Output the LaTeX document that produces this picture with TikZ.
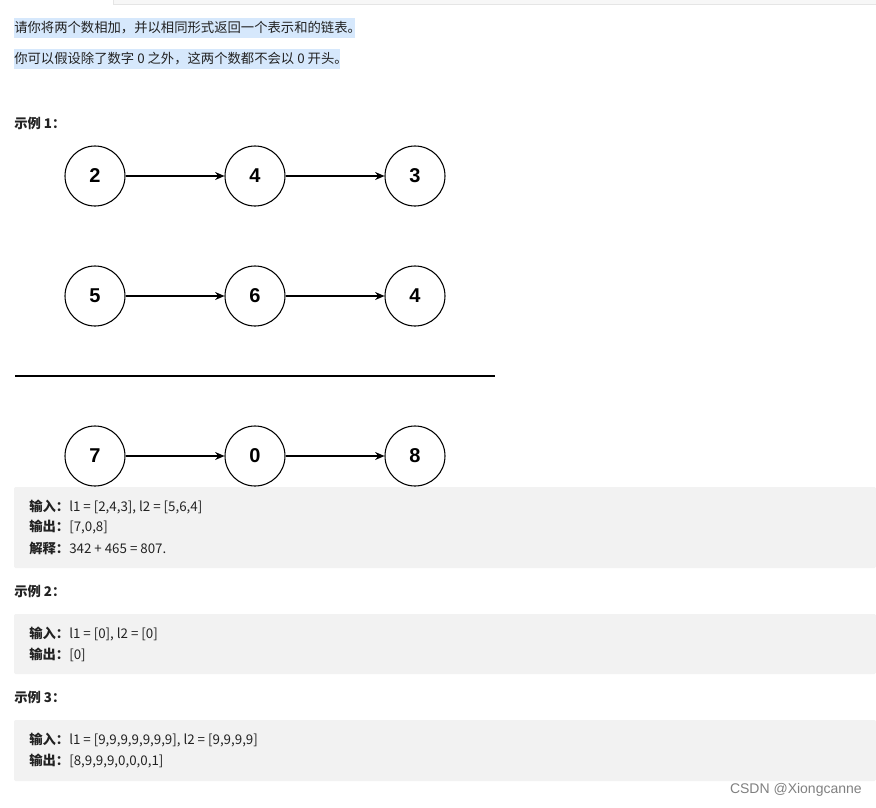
\documentclass[tikz,border=0pt]{standalone}
\usepackage{fontspec}
\setmainfont{Noto Sans CJK SC}
\newfontfamily\arialfont{Liberation Sans}
\usetikzlibrary{arrows.meta,positioning}
\definecolor{hlblue}{RGB}{214,232,252}
\definecolor{codegray}{RGB}{242,242,242}
\definecolor{txtgray}{RGB}{34,34,34}
\tikzset{
    listnode/.style={circle, draw, thick, minimum size=45pt, inner sep=0pt, font=\arialfont\fontsize{15}{15}\selectfont\bfseries},
    link/.style={thick, -{Stealth[length=7pt,width=6pt]}},
    para/.style={anchor=west, inner sep=0pt, font=\fontsize{10}{12}\selectfont, text=txtgray},
    codebox/.style={fill=codegray, draw=none, rounded corners=1pt},
}
\begin{document}
\begin{tikzpicture}[x=0.75pt, y=-0.75pt]
    \useasboundingbox (0,0) rectangle (876,808);
    % top edge of previous block
    \draw[fill=codegray!60, draw=gray!20] (113,-5) rectangle (880,4);

    % description
    \fill[hlblue] (14,18) rectangle (355,38);
    \node[para] (desc1) at (14,28) {请你将两个数相加，并以相同形式返回一个表示和的链表。};
    \fill[hlblue] (14,49) rectangle (340,69);
    \node[para] (desc2) at (14,59) {你可以假设除了数字 0 之外，这两个数都不会以 0 开头。};

    % example 1
    \node[para, font=\fontsize{10}{12}\selectfont\bfseries] (ex1) at (14,123) {示例 1：};

    \node[listnode] (a1) at (95,176) {2};
    \node[listnode] (a2) at (255,176) {4};
    \node[listnode] (a3) at (415,176) {3};
    \draw[link] (a1) -- (a2);
    \draw[link] (a2) -- (a3);

    \node[listnode] (b1) at (95,296) {5};
    \node[listnode] (b2) at (255,296) {6};
    \node[listnode] (b3) at (415,296) {4};
    \draw[link] (b1) -- (b2);
    \draw[link] (b2) -- (b3);

    \draw[line width=1.5pt] (15,376) -- (495,376);

    \node[listnode] (c1) at (95,456) {7};
    \node[listnode] (c2) at (255,456) {0};
    \node[listnode] (c3) at (415,456) {8};
    \draw[link] (c1) -- (c2);
    \draw[link] (c2) -- (c3);

    \fill[codebox] (14,487) rectangle (876,568);
    \node[para] (in1) at (29,507) {\textbf{输入：}l1 = [2,4,3], l2 = [5,6,4]};
    \node[para] (out1) at (29,527) {\textbf{输出：}[7,0,8]};
    \node[para] (exp1) at (29,548) {\textbf{解释：}342 + 465 = 807.};

    % example 2
    \node[para, font=\fontsize{10}{12}\selectfont\bfseries] (ex2) at (14,591) {示例 2：};
    \fill[codebox] (14,614) rectangle (876,674);
    \node[para] (in2) at (29,634) {\textbf{输入：}l1 = [0], l2 = [0]};
    \node[para] (out2) at (29,655) {\textbf{输出：}[0]};

    % example 3
    \node[para, font=\fontsize{10}{12}\selectfont\bfseries] (ex3) at (14,697) {示例 3：};
    \fill[codebox] (14,720) rectangle (876,781);
    \node[para] (in3) at (29,740) {\textbf{输入：}l1 = [9,9,9,9,9,9,9], l2 = [9,9,9,9]};
    \node[para] (out3) at (29,761) {\textbf{输出：}[8,9,9,9,0,0,0,1]};

    \node[anchor=east, inner sep=0pt, text=gray, font=\arialfont\fontsize{10.5}{12}\selectfont] (mark) at (862,790) {CSDN @Xiongcanne};
\end{tikzpicture}
\end{document}
